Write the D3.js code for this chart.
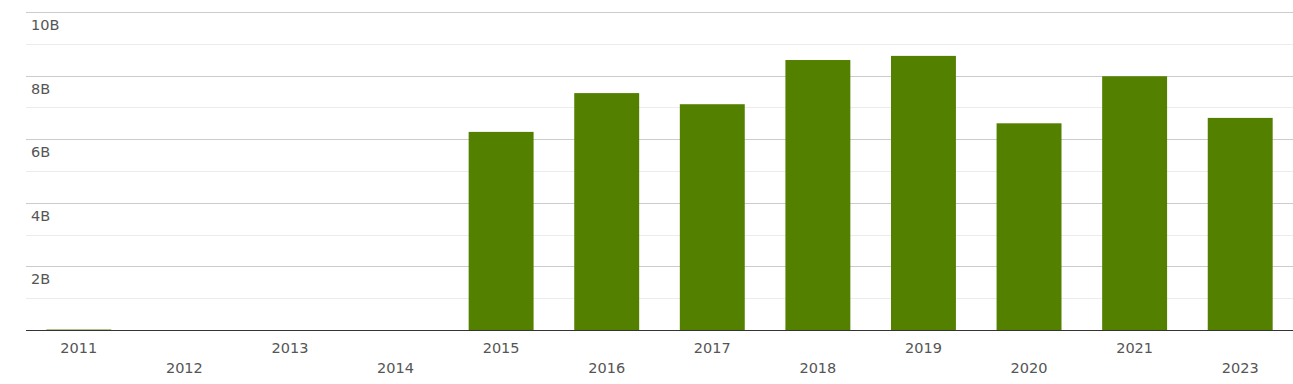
<!DOCTYPE html>
<html>
<head>
<meta charset="utf-8">
<script src="https://cdn.jsdelivr.net/npm/d3@7"></script>
<style>
  body { margin: 0; background: #fff; }
  svg { display: block; font-family: "DejaVu Sans", sans-serif; }
</style>
</head>
<body>
<svg width="1293" height="384"></svg>
<script>
const years = ["2011","2012","2013","2014","2015","2016","2017","2018","2019","2020","2021","2023"]
const values = [0.015e9, 0, 0, 0, 6.23e9, 7.45e9, 7.1e9, 8.49e9, 8.62e9, 6.5e9, 7.98e9, 6.67e9]
const majorTicks = [2e9, 4e9, 6e9, 8e9, 10e9]
const minorTicks = [1e9, 3e9, 5e9, 7e9, 9e9]
const tickLabels = ["2B", "4B", "6B", "8B", "10B"]

const svg = d3.select("svg")
const margin = {top:12,right:0,bottom:54,left:26}
const width = +svg.attr("width") - margin.left - margin.right
const height = +svg.attr("height") - margin.top - margin.bottom

const chart = svg.append("g")
    .attr("transform", `translate(${margin.left},${margin.top})`)

const x = d3.scaleBand().domain(years).range([0,width]).paddingInner(0.385).paddingOuter(0.1925)
const y = d3.scaleLinear().domain([0,10e9]).range([height,0])

chart.selectAll(".minor").data(minorTicks).enter().append("line")
    .attr("class","minor")
    .attr("x1",0).attr("x2",width)
    .attr("y1",d=>Math.round(y(d))+0.5).attr("y2",d=>Math.round(y(d))+0.5)
    .attr("stroke","#ececec")

chart.selectAll(".major").data(majorTicks).enter().append("line")
    .attr("class","major")
    .attr("x1",0).attr("x2",width)
    .attr("y1",d=>Math.round(y(d))+0.5).attr("y2",d=>Math.round(y(d))+0.5)
    .attr("stroke","#cccccc")

chart.selectAll(".ylabel").data(majorTicks).enter().append("text")
    .attr("class","ylabel")
    .attr("x",5)
    .attr("y",d=>y(d)+18)
    .attr("fill","#555")
    .style("font-size","14.5px")
    .text((d,i)=>tickLabels[i])

chart.selectAll(".bar").data(years).enter().append("rect")
    .attr("class","bar")
    .attr("x",d=>x(d))
    .attr("width",x.bandwidth())
    .attr("y",(d,i)=>y(values[i]))
    .attr("height",(d,i)=>height-y(values[i]))
    .attr("fill","#548000")

chart.append("line")
    .attr("x1",0).attr("x2",width)
    .attr("y1",height+0.5).attr("y2",height+0.5)
    .attr("stroke","#333")

chart.selectAll(".xlabel").data(years).enter().append("text")
    .attr("class","xlabel")
    .attr("x",d=>x(d)+x.bandwidth()/2)
    .attr("y",(d,i)=>height + (i%2 ? 43 : 23))
    .attr("text-anchor","middle")
    .attr("fill","#555")
    .style("font-size","14.5px")
    .text(d=>d)
</script>
</body>
</html>
